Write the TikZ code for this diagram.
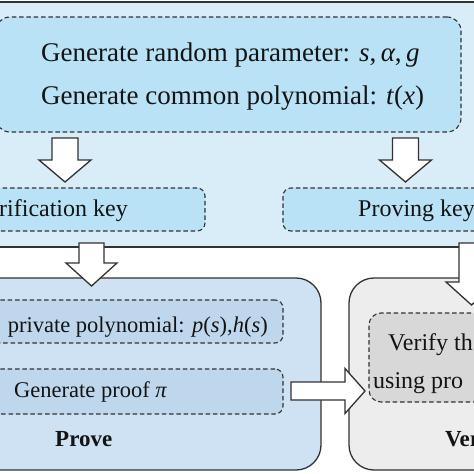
\documentclass[tikz,border=0pt]{standalone}
\usepackage{fontspec}
\setmainfont{Liberation Serif}
\definecolor{outerfill}{RGB}{217,237,249}
\definecolor{topfill}{RGB}{185,226,246}
\definecolor{provefill}{RGB}{207,226,243}
\definecolor{provein}{RGB}{190,215,237}
\definecolor{verfill}{RGB}{237,237,237}
\definecolor{verin}{RGB}{216,216,216}
\definecolor{linec}{RGB}{50,50,50}
\definecolor{textc}{RGB}{20,20,20}
\newcommand\zkDownArrow[7]{% cx, y0, y1, shaft half, head half, head len, name
  \draw[blockarrow] (#1-#4,#2) -- (#1+#4,#2) -- (#1+#4,#3-#6) -- (#1+#5,#3-#6)
    -- (#1,#3) coordinate (#7) -- (#1-#5,#3-#6) -- (#1-#4,#3-#6) -- cycle;}
\begin{document}
\begin{tikzpicture}[x=1pt,y=-1pt,
  solidbox/.style={draw=linec,line width=1.3pt,inner sep=0pt,outer sep=0pt},
  dashbox/.style={draw=linec,line width=1.1pt,dash pattern=on 4.5pt off 2.8pt,inner sep=0pt,outer sep=0pt},
  blockarrow/.style={draw=linec,line width=1.3pt,fill=white,line join=miter},
  txt/.style={text=textc,inner sep=0pt,font=\fontsize{22.5}{28}\selectfont},
  keytxt/.style={text=textc,inner sep=0pt,font=\fontsize{24}{28}\selectfont},
  vertxt/.style={text=textc,inner sep=0pt,font=\fontsize{24}{28}\selectfont},
  boldtxt/.style={text=textc,inner sep=0pt,font=\fontsize{23}{28}\selectfont\bfseries},
  toptxt/.style={text=textc,inner sep=0pt,font=\fontsize{27}{32}\selectfont}]
\useasboundingbox (0,0) rectangle (474,474);
\clip (0,0) rectangle (474,474);
\fill[white] (0,0) rectangle (474,474);
% outer setup region
\node[solidbox,fill=outerfill,minimum width=494pt,minimum height=245pt] (setup) at (237,124.5) {};
\node[dashbox,fill=topfill,rounded corners=14pt,minimum width=465pt,minimum height=115pt] (gen) at (228.5,74.5) {};
\node[dashbox,fill=topfill,rounded corners=8pt,minimum width=245pt,minimum height=43pt] (vk) at (82.5,209.5) {};
\node[dashbox,fill=topfill,rounded corners=8pt,minimum width=237pt,minimum height=43pt] (pk) at (401.5,209.5) {};
% prove and verify
\node[solidbox,fill=provefill,rounded corners=25pt,minimum width=361pt,minimum height=192pt] (prove) at (140.5,374) {};
\node[solidbox,fill=verfill,rounded corners=25pt,minimum width=251pt,minimum height=192pt] (verify) at (474.5,374) {};
\node[dashbox,fill=provein,rounded corners=8pt,minimum width=323pt,minimum height=43pt] (priv) at (121.5,321.5) {};
\node[dashbox,fill=provein,rounded corners=8pt,minimum width=323pt,minimum height=45pt] (proof) at (121.5,391.5) {};
\node[dashbox,fill=verin,rounded corners=12pt,minimum width=231pt,minimum height=89pt] (vin) at (484.5,357.5) {};
% block arrows
\zkDownArrow{65}{138}{182}{13}{26}{22}{a1}
\zkDownArrow{405.5}{138}{182}{13}{26}{22}{a2}
\zkDownArrow{91.5}{243}{286}{12.5}{25.5}{23}{a3}
\zkDownArrow{471.5}{243}{305}{12.5}{25.5}{23}{a4}
\draw[blockarrow] (291,382) -- (345,382) -- (345,368.5) -- (365,391) coordinate (a5)
  -- (345,413.5) -- (345,400) -- (291,400) -- cycle;
% texts
\node[toptxt,anchor=base west] (t1) at (41,61) {Generate random parameter: \textit{s},\,\textit{α},\,\textit{g}};
\node[toptxt,anchor=base west] (t2) at (41,104) {Generate common polynomial: \textit{t}(\textit{x})};
\node[keytxt,anchor=base east] (t3) at (128,216) {rification key};
\node[keytxt,anchor=base west] (t4) at (358,216) {Proving key};
\node[txt,anchor=base east] (t5) at (268,332) {private polynomial: \textit{p}(\textit{s}),\textit{h}(\textit{s})};
\node[txt,anchor=base west] (t6) at (14,397) {Generate proof \textit{π}};
\node[boldtxt,anchor=base west] (t7) at (55,446) {Prove};
\node[vertxt,anchor=base west] (t8) at (388,350) {Verify th};
\node[vertxt,anchor=base west] (t9) at (373,388) {using pro};
\node[boldtxt,anchor=base west] (t10) at (445,446) {Ver};
\end{tikzpicture}
\end{document}
